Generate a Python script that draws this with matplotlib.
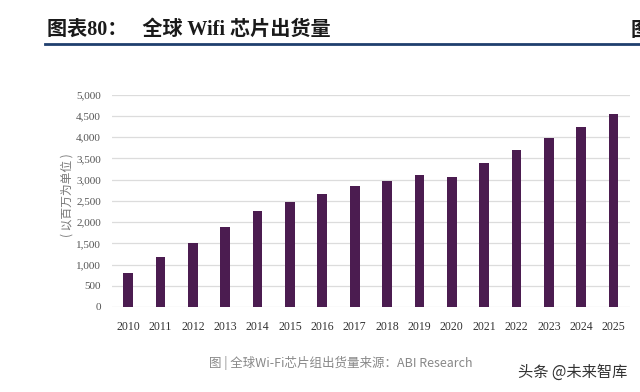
import matplotlib.pyplot as plt
import numpy as np

# 全球 Wifi 芯片出货量 (百万)
years = ['2010', '2011', '2012', '2013', '2014', '2015', '2016', '2017',
         '2018', '2019', '2020', '2021', '2022', '2023', '2024', '2025']
shipments = [800, 1180, 1510, 1890, 2270, 2470, 2660, 2850,
             2960, 3100, 3070, 3400, 3690, 3980, 4250, 4550]
y_ticks = [0, 500, 1000, 1500, 2000, 2500, 3000, 3500, 4000, 4500, 5000]

serif = ['Liberation Serif', 'Noto Sans CJK SC']
cjk = ['Noto Sans CJK SC', 'DejaVu Sans']

fig = plt.figure(figsize=(6.4, 3.92), dpi=100)
ax = fig.add_axes([0.175, 0.217, 0.809, 0.541])

x = np.arange(len(years))
ax.bar(x, shipments, width=0.3, color='#4b1c50', zorder=3)

ax.set_xlim(-0.5, len(years) - 0.5)
ax.set_ylim(0, 5000)
ax.set_yticks(y_ticks)
ax.set_yticklabels([f'{v:,}' for v in y_ticks], family=serif, fontsize=8, color='#555555')
ax.set_xticks(x)
ax.set_xticklabels(years, family=serif, fontsize=8.5, color='#333333')
ax.tick_params(axis='both', length=0)
ax.tick_params(axis='x', pad=10)
ax.tick_params(axis='y', pad=8)
ax.grid(axis='y', color='#dcdcdc', linewidth=0.9, zorder=0)
for s in ax.spines.values():
    s.set_visible(False)

fig.text(0.105, 0.503, '( 以百万为单位 )', rotation=90, family=cjk, fontsize=8.5,
         color='#777777', ha='center', va='center')

# header
fig.text(0.073, 0.924, '图表80：   全球 Wifi 芯片出货量', family=serif, fontsize=14.5,
         fontweight='bold', color='#1a1a1a', ha='left', va='center')
fig.text(0.985, 0.924, '图', family=cjk, fontsize=14.5, fontweight='bold',
         color='#1a1a1a', ha='left', va='center')
fig.add_artist(plt.Line2D([0.07, 1.0], [0.888, 0.888], color='#1f3f6e', linewidth=2))

# caption and watermark
fig.text(0.533, 0.074, '图 | 全球Wi-Fi芯片组出货量来源：ABI Research', family=cjk,
         fontsize=9, color='#888888', ha='center', va='center')
fig.text(0.981, 0.05, '头条 @未来智库', family=cjk, fontsize=11, color='#333333',
         ha='right', va='center')

fig.savefig('out.png', dpi=100, facecolor='white')
